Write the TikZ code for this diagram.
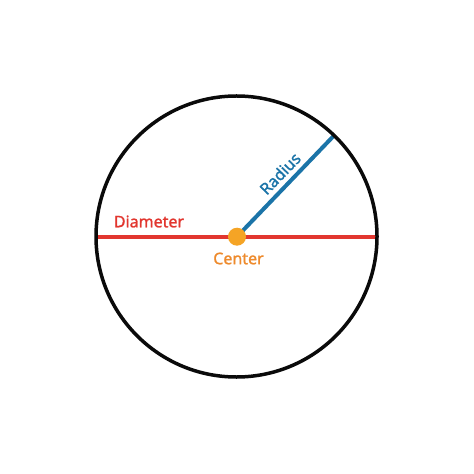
\documentclass[tikz,border=0pt]{standalone}
\usepackage{fontspec}
\setmainfont{Noto Sans}
\newfontface\lblfont{Noto Sans}[FakeBold=1.3]
\usetikzlibrary{backgrounds}
\definecolor{ringblack}{HTML}{0A0A0A}
\definecolor{diamred}{HTML}{E2362F}
\definecolor{radblue}{HTML}{1B74A8}
\definecolor{dotorange}{HTML}{F5A425}
\definecolor{txtorange}{HTML}{EE8A2C}
\tikzset{
  ring/.style={circle, draw=ringblack, line width=3.5bp, minimum size=281bp, inner sep=0pt, outer sep=0pt},
  diamline/.style={draw=diamred, line width=4bp},
  radline/.style={draw=radblue, line width=4bp},
  dot/.style={circle, fill=dotorange, minimum size=18bp, inner sep=0pt, outer sep=0pt},
  lbl/.style={font=\lblfont\fontsize{16bp}{18bp}\selectfont, inner sep=0pt}
}
\begin{document}
\begin{tikzpicture}[x=1bp,y=-1bp]
\useasboundingbox (0,0) rectangle (474,474);
\node[ring] (ring) at (236.5,236.5) {};
\node[dot] (ctr) at (237,236.7) {};
\begin{scope}[on background layer]
  \fill[white] (0,0) rectangle (474,474);
  \draw[diamline] (ring.west) -- (ring.east);
  \draw[radline] (ctr.center) -- (ring.46);
\end{scope}
\node[lbl, text=diamred] (diam) at (149,221.5) {Diameter};
\node[lbl, text=txtorange] (cen) at (238.5,258.5) {Center};
\node[lbl, text=radblue, rotate=46] (rad) at (280,173.5) {Radius};
\end{tikzpicture}
\end{document}
